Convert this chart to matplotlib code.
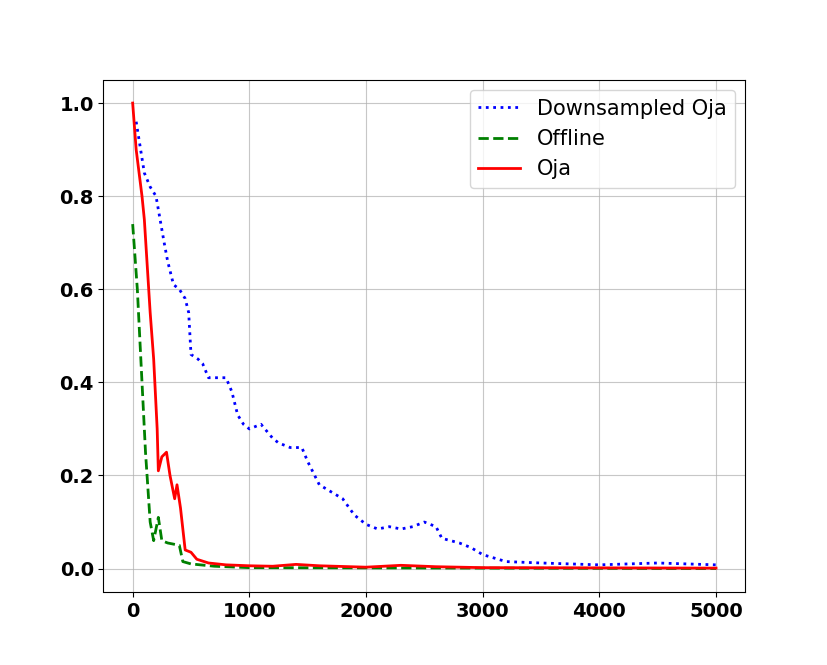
import matplotlib.pyplot as plt

# Downsampled Oja
ds_x = [30, 100, 150, 200, 270, 300, 350, 400, 450, 480, 500, 560, 600, 650, 800, 850, 900, 950,
        1000, 1100, 1200, 1250, 1350, 1450, 1500, 1600, 1700, 1800, 1900, 2000, 2100, 2200, 2300,
        2400, 2500, 2600, 2650, 2800, 2900, 3000, 3200, 3500, 4000, 4500, 5000]
ds_y = [0.96, 0.85, 0.82, 0.80, 0.70, 0.66, 0.61, 0.60, 0.58, 0.55, 0.46, 0.45, 0.44, 0.41, 0.41,
        0.38, 0.33, 0.31, 0.30, 0.31, 0.28, 0.27, 0.26, 0.26, 0.23, 0.18, 0.165, 0.15, 0.115, 0.095,
        0.085, 0.09, 0.085, 0.09, 0.10, 0.09, 0.065, 0.055, 0.045, 0.03, 0.015, 0.012, 0.008, 0.012, 0.008]

# Offline
off_x = [0, 40, 80, 110, 150, 180, 220, 250, 300, 400, 430, 500, 700, 1000, 5000]
off_y = [0.74, 0.60, 0.40, 0.25, 0.10, 0.06, 0.11, 0.06, 0.055, 0.05, 0.015, 0.01, 0.005, 0.002, 0.0]

# Oja
oja_x = [0, 30, 80, 100, 150, 180, 210, 220, 250, 290, 320, 360, 380, 410, 450, 500, 550, 650,
         800, 1000, 1200, 1400, 1600, 2000, 2300, 2600, 3000, 5000]
oja_y = [1.0, 0.9, 0.80, 0.75, 0.55, 0.45, 0.30, 0.21, 0.24, 0.25, 0.20, 0.15, 0.18, 0.13, 0.04,
         0.035, 0.02, 0.012, 0.008, 0.006, 0.005, 0.009, 0.006, 0.003, 0.007, 0.004, 0.002, 0.001]

fig, ax = plt.subplots(figsize=(8.28, 6.65), dpi=100)
ax.plot(ds_x, ds_y, color="blue", linestyle=":", linewidth=2, label="Downsampled Oja")
ax.plot(off_x, off_y, color="green", linestyle="--", linewidth=2, label="Offline")
ax.plot(oja_x, oja_y, color="red", linestyle="-", linewidth=2, label="Oja")
ax.grid(True, color="#b0b0b0", alpha=0.7)
ax.set_xticks([0, 1000, 2000, 3000, 4000, 5000])
ax.set_yticks([0.0, 0.2, 0.4, 0.6, 0.8, 1.0])
for lbl in ax.get_xticklabels() + ax.get_yticklabels():
    lbl.set_fontweight("bold")
    lbl.set_fontsize(14)
ax.legend(loc="upper right", fontsize=15)

plt.savefig("out.png")
